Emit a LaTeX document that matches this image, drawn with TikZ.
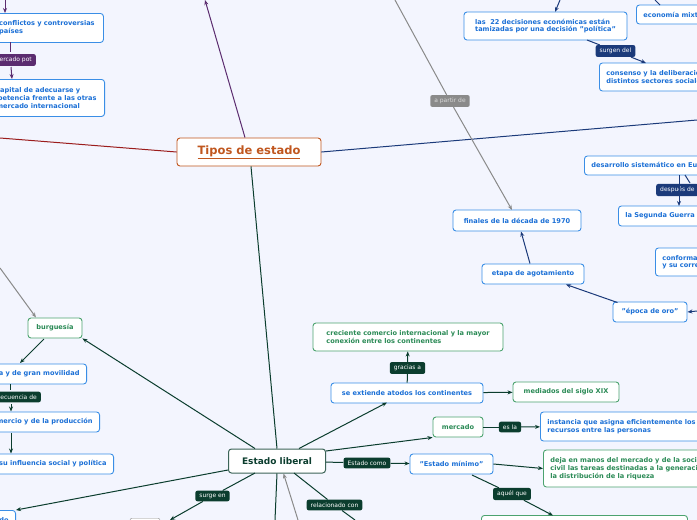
\documentclass[tikz,border=0pt]{standalone}
\usepackage{fontspec}
\setmainfont{DejaVu Sans}
\usetikzlibrary{arrows.meta}
\definecolor{bg}{HTML}{F3F5FE}
\definecolor{bltx}{HTML}{1A6FD6}
\definecolor{blbd}{HTML}{3A8EE6}
\definecolor{grtx}{HTML}{2A8A55}
\definecolor{grbd}{HTML}{4CA36F}
\definecolor{dkg}{HTML}{0B3D2E}
\definecolor{navy}{HTML}{1B3A7A}
\definecolor{purp}{HTML}{5B2C6F}
\definecolor{redl}{HTML}{9B1C1C}
\definecolor{orng}{HTML}{C0561E}
\definecolor{gryl}{HTML}{8A8A8A}
\tikzset{
 x=1pt,y=-1pt,
 bl/.style={draw=blbd,fill=white,rounded corners=3pt,line width=0.9pt,text=bltx,font=\bfseries\fontsize{6.6}{7.8}\selectfont,align=left,inner xsep=7pt,inner ysep=3.5pt},
 gr/.style={bl,draw=grbd,text=grtx},
 lab/.style={fill=#1,rounded corners=2pt,text=white,font=\fontsize{6}{7}\selectfont,inner xsep=4pt,inner ysep=3pt},
 ar/.style={-{Stealth[length=5pt,width=4pt]},line width=1pt,draw=#1},
 ln/.style={line width=1pt,draw=#1},
}
\begin{document}
\begin{tikzpicture}
\fill[bg] (0,0) rectangle (697,520);
\useasboundingbox (0,0) rectangle (697,520);
\begin{scope}
\clip (0,0) rectangle (697,520);
% central
\node[draw=orng,fill=white,rounded corners=3pt,line width=0.9pt,text=orng,font=\bfseries\fontsize{11.5}{13}\selectfont,minimum width=144,minimum height=28] (tipos) at (249,152) {\underline{Tipos de estado}};
\node[draw=dkg!80,fill=white,rounded corners=3pt,line width=1pt,text=dkg,font=\bfseries\fontsize{9}{11}\selectfont,minimum width=97,minimum height=24] (lib) at (277,461) {Estado liberal};
% top left purple branch
\node[bl,anchor=north west,minimum width=113,minimum height=29,inner xsep=2pt] (c1) at (-10,13) {conflictos y controversias\\países};
\node[lab=purp,anchor=east] (p1) at (36,60) {mercado pot};
\node[bl,anchor=north east,minimum width=130,minimum height=37] (c2) at (105,79) {del capital de adecuarse y\\competencia frente a las otras\\del mercado internacional};
\coordinate (ptop) at (205,0);
\coordinate (c0) at (5,0);
\draw[ar=purp] (tipos.north) ++(-4,0) -- (ptop);
\draw[ar=purp] (c0) -- (5,13);
\draw[ln=purp] (10,42) -- (10,52);
\draw[ar=purp] (11,67) -- (12,79);
% red
\coordinate (rl) at (0,138);
\draw[ln=redl] (tipos.west) -- (rl);
% navy branch
\coordinate (nr) at (697,120);
\draw[ln=navy] (tipos.east) -- (nr);
\node[bl,minimum width=163,minimum height=28] (dec) at (545.5,26) {las \ 22 decisiones económicas están\\tamizadas por una decisión "política"};
\node[bl,anchor=west,minimum height=19] (mix) at (636,14.5) {economía mixta};
\node[lab=navy] (sd) at (615.5,51) {surgen del};
\node[bl,anchor=west,minimum height=28] (cons) at (599,77) {consenso y la deliberación de los\\distintos sectores sociales};
\coordinate (dt) at (560,0);
\coordinate (mt) at (655,0);
\draw[ar=navy] (dt) -- (555,12);
\draw[ln=navy] (mt) -- (660,5);
\draw[ln=navy] (587,40) -- (sd);
\draw[ar=navy] (sd) -- (646,63);
\node[bl,anchor=west,minimum height=19] (des) at (584,165.5) {desarrollo sistemático en Europa};
\node[lab=navy,anchor=west] (dp) at (656,190) {después de};
\node[bl,anchor=west,minimum height=20] (sg) at (618,216) {la Segunda Guerra Mundial};
\node[bl,anchor=west,minimum height=28] (conf) at (655,262) {conformación\\y su correlato};
\draw[ar=navy] (679,175) -- (679,206);
\draw[ln=navy] (685,175) -- (690,183);
\node[bl,minimum width=128,minimum height=21] (fin) at (517,220.5) {finales de la década de 1970};
\node[bl,minimum width=102,minimum height=20] (eta) at (533,274) {etapa de agotamiento};
\node[bl,minimum width=74,minimum height=20] (oro) at (650,312) {"época de oro"};
\draw[ar=navy] (eta.north) ++(-3,0) -- (521,231.5);
\draw[ar=navy] (oro.north west) ++(5,1) -- (566,284.5);
\coordinate (orr) at (697,311);
\draw[ar=navy] (orr) -- (oro.east);
% gray
\coordinate (gt) at (395,0);
\node[lab=gryl,text=white!85!black] (ap) at (450,101) {a partir de};
\draw[ln=gryl] (gt) -- (ap);
\draw[ar=gryl] (ap) -- (512,210);
% main
\draw[ln=dkg] (tipos.south) ++(2,0) -- (lib.north);
% left branch
\node[gr,minimum width=54,minimum height=20] (bur) at (55,328) {burguesía};
\coordinate (gl) at (0,268);
\draw[ar=gryl] (gl) -- (36,317.5);
\node[bl,anchor=east,minimum height=20] (mov) at (87,374) {clase activa y de gran movilidad};
\node[lab=dkg,anchor=east] (sc) at (41,397) {como consecuencia de};
\node[bl,anchor=east,minimum height=20] (com) at (100,422) {desarrollo del comercio y de la producción};
\node[bl,anchor=east,minimum height=20] (inf) at (114,464) {adquiere mayor su influencia social y política};
\draw[ar=dkg] (44,339) -- (20,363);
\draw[ln=dkg] (10,384) -- (10,390);
\draw[ar=dkg] (11,404) -- (11,411.5);
\draw[ar=dkg] (11,433) -- (11,453.5);
\draw[ar=dkg] (lib.north west) ++(27,0) -- (bur.south east);
\node[bl,anchor=north east,minimum height=20] (bl1) at (16,510) {estado};
\draw[ar=dkg] (lib.west) ++(0,9) -- (bl1.north east);
\node[lab=dkg] (se) at (212.5,496) {surge en};
\draw[ln=dkg] (255,473) -- (se);
\coordinate (seb) at (170,520);
\draw[ar=dkg] (se) -- (seb);
\node[draw=gryl,fill=white,rounded corners=2pt,minimum width=30,minimum height=8,anchor=north] (gb) at (145,518) {};
\coordinate (db) at (275,520);
\draw[ln=dkg] (lib.south) -- (db);
\coordinate (gb2) at (298,520);
\draw[ar=gryl] (gb2) -- (283.5,473.5);
\node[lab=dkg] (rc) at (334.5,505) {relacionado con};
\draw[ln=dkg] (294,473) -- (rc);
\coordinate (rcb) at (355,520);
\draw[ln=dkg] (rc) -- (rcb);
% right of liberal
\node[gr,minimum width=190,minimum height=28] (cre) at (408,337) {creciente comercio internacional y la mayor\\conexión entre los continentes};
\node[lab=dkg] (ga) at (407.5,368) {gracias a};
\node[bl,minimum width=152,minimum height=20] (ext) at (407,393) {se extiende atodos los continentes};
\node[gr,minimum width=106,minimum height=20] (med) at (566,392) {mediados del siglo XIX};
\node[gr,minimum width=50,minimum height=20] (mer) at (458,427) {mercado};
\node[lab=dkg] (es) at (510,427) {es la};
\node[bl,anchor=west,minimum height=29] (ins) at (540,426.5) {instancia que asigna eficientemente los\\recursos entre las personas};
\node[lab=dkg] (ec) at (367,463) {Estado como};
\node[bl,minimum width=83,minimum height=20] (min) at (451.5,464) {"Estado mínimo"};
\node[gr,anchor=west,minimum height=37] (dej) at (543,468.5) {deja en manos del mercado y de la sociedad\\civil las tareas destinadas a la generación y\\la distribución de la riqueza};
\node[lab=dkg] (aq) at (512,494) {aquél que};
\node[gr,anchor=north west,minimum width=206,minimum height=20] (bot) at (481,515) {};
\draw[ln=dkg] (ga) -- (ext);
\draw[ar=dkg] (ga) -- (cre);
\draw[ar=dkg] (lib.north east) ++(-27,0) -- (387,402.5);
\draw[ar=dkg] (ext) -- (med);
\draw[ar=dkg] (lib.east) ++(0,-10) -- (mer.south west);
\draw[ln=dkg] (mer) -- (es);
\draw[ar=dkg] (es) -- (ins);
\draw[ln=dkg] (lib) -- (ec);
\draw[ar=dkg] (ec) -- (min);
\draw[ar=dkg] (min.east) -- (dej.west);
\draw[ln=dkg] (472,475) -- (aq);
\draw[ar=dkg] (aq) -- (553,515.5);
\end{scope}
\end{tikzpicture}
\end{document}
